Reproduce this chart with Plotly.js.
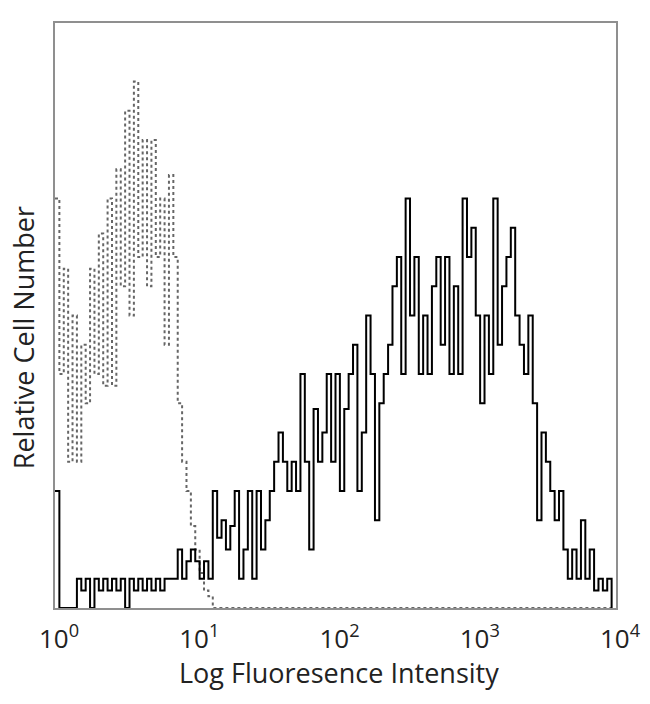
<!DOCTYPE html>
<html>
<head>
<meta charset="utf-8">
<script src="https://cdn.plot.ly/plotly-3.0.1.min.js"></script>
<style>html,body{margin:0;padding:0;background:#fff;}#chart{width:650px;height:704px;}</style>
</head>
<body>
<div id="chart"></div>
<script>
// Channel histogram (128 channels over 4 log decades, 32 channels per decade)
const tickChannels = [0, 32, 64, 96, 128];
const tickLabels = ['10<sup>0</sup>', '10<sup>1</sup>', '10<sup>2</sup>', '10<sup>3</sup>', '10<sup>4</sup>'];

// Stained sample (solid black)
const stainedCounts = [
  20, 0, 0, 0, 0, 5, 3, 5, 0, 5,
  3, 5, 3, 5, 3, 5, 0, 5, 3, 5,
  3, 5, 3, 5, 3, 5, 5, 5, 10, 5,
  8, 10, 8, 5, 8, 5, 20, 12, 15, 10,
  14, 20, 5, 10, 20, 5, 20, 10, 15, 20,
  25, 30, 25, 20, 25, 20, 40, 25, 10, 34,
  25, 30, 40, 25, 40, 20, 34, 40, 45, 20,
  30, 50, 40, 15, 35, 40, 45, 55, 60, 40,
  70, 50, 60, 40, 50, 40, 55, 60, 45, 60,
  40, 55, 40, 70, 60, 65, 50, 35, 50, 40,
  70, 45, 55, 60, 65, 50, 45, 40, 50, 35,
  15, 30, 25, 20, 15, 20, 10, 5, 10, 5,
  15, 5, 10, 3, 5, 3, 5, 0
];

// Isotype control (dotted gray)
const controlCounts = [
  70, 40, 58, 25, 50, 25, 45, 35, 58, 40,
  64, 38, 70, 38, 75, 55, 85, 50, 90, 60,
  80, 55, 80, 60, 70, 45, 74, 60, 35, 25,
  20, 14, 10, 6, 3, 2, 0, 0, 0, 0,
  0, 0, 0, 0, 0, 0, 0, 0, 0, 0,
  0, 0, 0, 0, 0, 0, 0, 0, 0, 0,
  0, 0, 0, 0, 0, 0, 0, 0, 0, 0,
  0, 0, 0, 0, 0, 0, 0, 0, 0, 0,
  0, 0, 0, 0, 0, 0, 0, 0, 0, 0,
  0, 0, 0, 0, 0, 0, 0, 0, 0, 0,
  0, 0, 0, 0, 0, 0, 0, 0, 0, 0,
  0, 0, 0, 0, 0, 0, 0, 0, 0, 0,
  0, 0, 0, 0, 0, 0, 0, 0
];

const xTitle = 'Log Fluoresence Intensity';
const yTitle = 'Relative Cell Number';

const traces = [
  {
    type: 'scatter', mode: 'lines', name: 'Isotype control',
    x0: 0, dx: 1, y: controlCounts,
    line: {shape: 'hv', color: '#666666', width: 2, dash: 'dot'},
    hoverinfo: 'skip'
  },
  {
    type: 'scatter', mode: 'lines', name: 'Stained',
    x0: 0, dx: 1, y: stainedCounts,
    line: {shape: 'hv', color: '#000000', width: 2},
    hoverinfo: 'skip'
  }
];

const fontFamily = 'Open Sans, sans-serif';

const layout = {
  width: 650, height: 704,
  margin: {l: 55, r: 34, t: 23, b: 96},
  paper_bgcolor: '#ffffff', plot_bgcolor: '#ffffff',
  showlegend: false,
  font: {family: fontFamily, color: '#222'},
  xaxis: {
    type: 'linear', range: [0, 128], fixedrange: true,
    tickvals: tickChannels, ticktext: tickLabels,
    ticks: '', showgrid: false, zeroline: false,
    showline: true, mirror: true, linecolor: '#8f8f8f', linewidth: 2,
    layer: 'below traces',
    tickfont: {family: fontFamily, size: 26, color: '#222'},
    ticklabelshift: 4,
    ticklabelstandoff: 7
  },
  yaxis: {
    range: [0, 100], fixedrange: true,
    showticklabels: false, ticks: '', showgrid: false, zeroline: false,
    showline: true, mirror: true, linecolor: '#8f8f8f', linewidth: 2,
    layer: 'below traces'
  },
  annotations: [
    {
      text: yTitle, textangle: -90, showarrow: false,
      xref: 'paper', yref: 'paper', x: 0, y: 0.462,
      xanchor: 'right', yanchor: 'middle', xshift: -11,
      font: {family: fontFamily, size: 27, color: '#222'}
    },
    {
      text: xTitle, showarrow: false,
      xref: 'paper', yref: 'paper', x: 0.506, y: 0,
      xanchor: 'center', yanchor: 'top', yshift: -44,
      font: {family: fontFamily, size: 27, color: '#222'}
    }
  ]
};

Plotly.newPlot('chart', traces, layout, {staticPlot: true, displayModeBar: false});
</script>
</body>
</html>
